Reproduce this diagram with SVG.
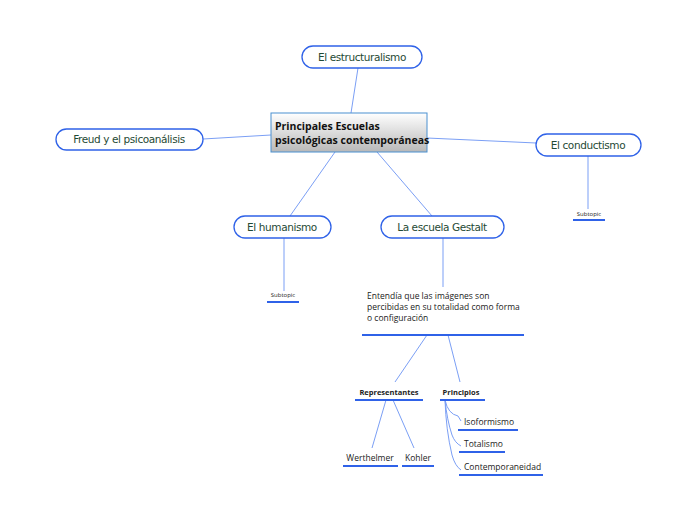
<svg xmlns="http://www.w3.org/2000/svg" width="697" height="520" viewBox="0 0 697 520">
<defs>
<linearGradient id="g" x1="0" y1="0" x2="0" y2="1"><stop offset="0" stop-color="#ffffff"/><stop offset="1" stop-color="#b8b8b8"/></linearGradient>
</defs>
<style>
.n{fill:#fff;stroke:#2f62e8;stroke-width:1.3}
.t{font-family:"DejaVu Sans",sans-serif;font-size:10.5px;fill:#1f4a35;text-anchor:middle;letter-spacing:-0.4px}
.s{font-family:"Open Sans","Noto Sans",sans-serif;font-size:8.5px;fill:#222}
.sm{font-size:6px}
.b{font-weight:bold;font-size:7.5px}
.u{stroke:#2f62e8;stroke-width:2}
.c{stroke:#7b9ff5;stroke-width:1;fill:none}
</style>
<rect width="697" height="520" fill="#fff"/>
<g id="connectors">
<line class="c" x1="351" y1="113" x2="358" y2="68"/>
<line class="c" x1="271" y1="135" x2="203" y2="139"/>
<line class="c" x1="427" y1="138" x2="536" y2="143"/>
<line class="c" x1="335" y1="152" x2="290" y2="216"/>
<line class="c" x1="377" y1="152" x2="432" y2="216"/>
<line class="c" x1="588" y1="156" x2="588" y2="209"/>
<line class="c" x1="284" y1="238" x2="284" y2="291"/>
<line class="c" x1="443" y1="238" x2="443" y2="287"/>
<line class="c" x1="427" y1="335" x2="395" y2="382"/>
<line class="c" x1="448" y1="335" x2="460" y2="382"/>
<line class="c" x1="386" y1="400" x2="372" y2="448"/>
<line class="c" x1="393" y1="400" x2="414" y2="448"/>
<path class="c" d="M445 400 Q448 414 458 416 L461 421"/>
<path class="c" d="M445 400 Q447 420 452 435 Q455 443 461 446"/>
<path class="c" d="M445 400 Q446 430 452 455 Q455 466 461 470"/>
</g>
<g id="center">
<rect x="271" y="113" width="156" height="39" fill="url(#g)" stroke="#4a90d0" stroke-width="1"/>
<text x="275" y="130" font-family="Open Sans,sans-serif" font-size="10.5" font-weight="bold" fill="#111">Principales Escuelas</text>
<text x="275" y="144" font-family="Open Sans,sans-serif" font-size="10.5" font-weight="bold" fill="#111">psicológicas contemporáneas</text>
</g>
<g id="estructuralismo"><rect class="n" x="302" y="46" width="120" height="22" rx="11"/><text class="t" x="362" y="61">El estructuralismo</text></g>
<g id="freud"><rect class="n" x="56" y="129" width="147" height="21" rx="10.5"/><text class="t" x="129" y="143">Freud y el psicoanálisis</text></g>
<g id="conductismo"><rect class="n" x="536" y="134" width="105" height="22" rx="11"/><text class="t" x="588" y="149">El conductismo</text></g>
<g id="humanismo"><rect class="n" x="234" y="216" width="97" height="22" rx="11"/><text class="t" x="282" y="231">El humanismo</text></g>
<g id="gestalt"><rect class="n" x="381" y="216" width="123" height="22" rx="11"/><text class="t" x="442" y="231">La escuela Gestalt</text></g>
<g id="subtopic1"><text class="s sm" x="589" y="216" text-anchor="middle">Subtopic</text><line class="u" x1="573" y1="220" x2="605" y2="220"/></g>
<g id="subtopic2"><text class="s sm" x="283" y="297" text-anchor="middle">Subtopic</text><line class="u" x1="267" y1="302" x2="299" y2="302"/></g>
<g id="entendia">
<text class="s" x="367" y="299">Entendía que las imágenes son</text>
<text class="s" x="367" y="310">percibidas en su totalidad como forma</text>
<text class="s" x="367" y="321">o configuración</text>
<line class="u" x1="362" y1="335" x2="524" y2="335"/>
</g>
<g id="representantes"><text class="s b" x="389" y="395" text-anchor="middle">Representantes</text><line class="u" x1="355" y1="400" x2="423" y2="400"/></g>
<g id="principios"><text class="s b" x="461" y="395" text-anchor="middle">Principios</text><line class="u" x1="440" y1="400" x2="485" y2="400"/></g>
<g id="werthelmer"><text class="s" x="370" y="461" text-anchor="middle">Werthelmer</text><line class="u" x1="343" y1="466" x2="398" y2="466"/></g>
<g id="kohler"><text class="s" x="418" y="461" text-anchor="middle">Kohler</text><line class="u" x1="402" y1="466" x2="434" y2="466"/></g>
<g id="isoformismo"><text class="s" x="464" y="425">Isoformismo</text><line class="u" x1="458" y1="430" x2="518" y2="430"/></g>
<g id="totalismo"><text class="s" x="464" y="447">Totalismo</text><line class="u" x1="459" y1="452" x2="505" y2="452"/></g>
<g id="contemporaneidad"><text class="s" x="464" y="470">Contemporaneidad</text><line class="u" x1="459" y1="475" x2="543" y2="475"/></g>
</svg>
